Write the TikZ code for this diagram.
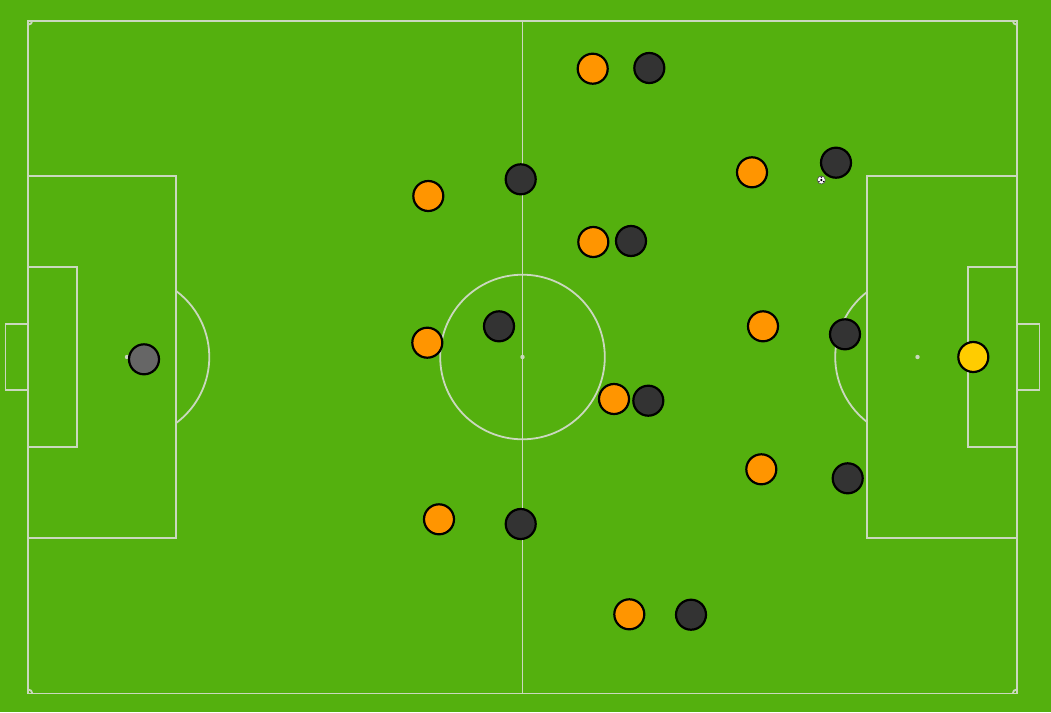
\documentclass[tikz,border=0pt]{standalone}
\definecolor{pitch}{RGB}{84,176,14}
\definecolor{pline}{RGB}{202,216,190}
\definecolor{teamA}{RGB}{255,149,0}
\definecolor{teamB}{RGB}{51,51,51}
\definecolor{gkA}{RGB}{102,102,102}
\definecolor{gkB}{RGB}{255,204,0}
\tikzset{
  pl/.style={draw=pline, line width=1.8pt},
  goalln/.style={draw=pline, line width=1.1pt},
  player/.style={circle, draw=black, line width=2.2pt, minimum size=30pt, inner sep=0pt},
  orangep/.style={player, fill=teamA},
  darkp/.style={player, fill=teamB},
  ballnode/.style={circle, draw=black!70, fill=white, line width=0.6pt, minimum size=8pt, inner sep=0pt},
}
\begin{document}
\begin{tikzpicture}[x=1pt,y=-1pt]
\fill[pitch] (0,0) rectangle (1051,712);
\useasboundingbox (0,0) rectangle (1051,712);
% outline
\draw[pl] (28.3,20.7) rectangle (1016.7,693.5);
\draw[pl] (522.5,20.7) -- (522.5,693.5);
\draw[pl] (522.5,357) circle (82.3);
\fill[pline] (522.5,357) circle (2.2);
% corner arcs
\draw[pl] (32.3,20.7) arc[start angle=0,end angle=90,radius=4];
\draw[pl] (1012.7,20.7) arc[start angle=180,end angle=90,radius=4];
\draw[pl] (32.3,693.5) arc[start angle=0,end angle=-90,radius=4];
\draw[pl] (1012.7,693.5) arc[start angle=180,end angle=270,radius=4];
% left side
\draw[pl] (28.3,176) rectangle (176,538);
\draw[pl] (28.3,267) rectangle (77.3,447);
\draw[goalln] (28.3,324) -- (5.5,324) -- (5.5,390) -- (28.3,390);
\fill[pline] (127,357) circle (2.2);
\draw[pl] (127,357) ++(-53.3:82.3) arc[start angle=-53.3,end angle=53.3,radius=82.3];
% right side
\draw[pl] (867.3,176) rectangle (1016.7,538);
\draw[pl] (967.7,267) rectangle (1016.7,447);
\draw[goalln] (1016.7,324) -- (1039.3,324) -- (1039.3,390) -- (1016.7,390);
\fill[pline] (917.5,357) circle (2.2);
\draw[pl] (917.5,357) ++(127.7:82.3) arc[start angle=127.7,end angle=232.3,radius=82.3];
% goalkeepers
\node[player, fill=gkA] (gk1) at (144,359.3) {};
\node[player, fill=gkB] (gk2) at (973.3,357) {};
% orange team
\node[orangep] (o1) at (592.7,68.7) {};
\node[orangep] (o2) at (428.3,196) {};
\node[orangep] (o3) at (752,172.3) {};
\node[orangep] (o4) at (593.3,242) {};
\node[orangep] (o5) at (427.3,342.7) {};
\node[orangep] (o6) at (763,326.3) {};
\node[orangep] (o7) at (614,399) {};
\node[orangep] (o8) at (761.3,469.3) {};
\node[orangep] (o9) at (439,519.3) {};
\node[orangep] (o10) at (629.3,614.3) {};
% dark team
\node[darkp] (d1) at (649.3,68) {};
\node[darkp] (d2) at (520.7,179.3) {};
\node[darkp] (d3) at (836,162.7) {};
\node[darkp] (d4) at (631,241) {};
\node[darkp] (d5) at (499,326.3) {};
\node[darkp] (d6) at (845,334.3) {};
\node[darkp] (d7) at (648.3,400.7) {};
\node[darkp] (d8) at (847.7,478.3) {};
\node[darkp] (d9) at (520.7,524) {};
\node[darkp] (d10) at (691,614.7) {};
% ball
\node[ballnode] (ball) at (821.3,180) {};
\fill[black] (ball.center) circle (1.3);
\fill[black] ([shift={(-2.3,1.6)}]ball.center) circle (0.8);
\fill[black] ([shift={(2.3,1.6)}]ball.center) circle (0.8);
\fill[black] ([shift={(0,-2.8)}]ball.center) circle (0.8);
\end{tikzpicture}
\end{document}
